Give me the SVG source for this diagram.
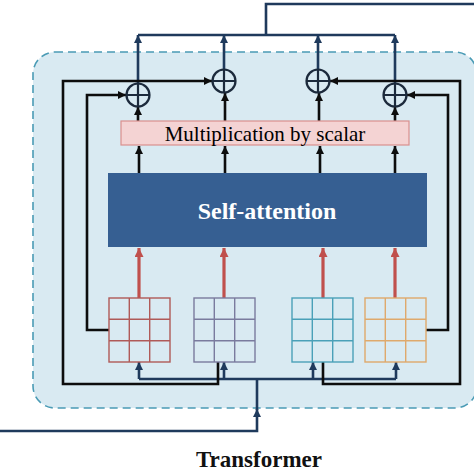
<svg xmlns="http://www.w3.org/2000/svg" width="474" height="474" viewBox="0 0 474 474">
<style>
.blk{fill:none;stroke:#0d0d0d;stroke-width:2.6}
.nav{fill:none;stroke:#1f3a5c;stroke-width:2.6}
.red{fill:none;stroke:#c0504d;stroke-width:3.2}
.sum{fill:none;stroke:#1c2a3c;stroke-width:2.2}
.lbl{font-family:"Liberation Serif","Times New Roman",serif;text-anchor:middle}
</style>
<defs>
<marker id="ab" markerUnits="userSpaceOnUse" markerWidth="10" markerHeight="10" refX="8" refY="4" orient="auto"><path d="M0,0 L8,4 L0,8 Z" fill="#0d0d0d"/></marker>
<marker id="an" markerUnits="userSpaceOnUse" markerWidth="10" markerHeight="10" refX="8" refY="4" orient="auto"><path d="M0,0 L8,4 L0,8 Z" fill="#1f3a5c"/></marker>
<marker id="ar" markerUnits="userSpaceOnUse" markerWidth="12" markerHeight="12" refX="9" refY="4.5" orient="auto"><path d="M0,0 L9,4.5 L0,9 Z" fill="#c0504d"/></marker>
</defs>
<rect width="474" height="474" fill="#ffffff"/>
<g id="transformer-frame">
<rect x="33" y="52" width="444" height="356" rx="22" fill="#d9eaf2" stroke="#4a9bb5" stroke-width="1.6" stroke-dasharray="8,5"/>
</g>
<g id="connectors">
<path class="nav" d="M138,35 H395"/>
<path class="nav" d="M266,35 V4 H474"/>
<path class="nav" marker-end="url(#an)" d="M138,84 V35"/>
<path class="nav" marker-end="url(#an)" d="M224,70 V35"/>
<path class="nav" marker-end="url(#an)" d="M318,70 V35"/>
<path class="nav" marker-end="url(#an)" d="M395,84 V35"/>
<path class="nav" marker-end="url(#an)" d="M0,431 H257 V409"/>
<path class="nav" d="M257,410 V379"/>
<path class="nav" d="M139,379 H396"/>
<path class="nav" marker-end="url(#an)" d="M139,379 V362"/>
<path class="nav" marker-end="url(#an)" d="M224,379 V362"/>
<path class="nav" marker-end="url(#an)" d="M313,379 V362"/>
<path class="nav" marker-end="url(#an)" d="M396,379 V362"/>
<path class="blk" marker-end="url(#ab)" d="M218,362 V384 H63 V81 H212"/>
<path class="blk" marker-end="url(#ab)" d="M109,330 H87 V95 H126"/>
<path class="blk" marker-end="url(#ab)" d="M323,362 V384 H460 V81 H330"/>
<path class="blk" marker-end="url(#ab)" d="M426,330 H448 V95 H407"/>
<path class="blk" marker-end="url(#ab)" d="M138,121 V107"/>
<path class="blk" marker-end="url(#ab)" d="M225,121 V93"/>
<path class="blk" marker-end="url(#ab)" d="M319,121 V93"/>
<path class="blk" marker-end="url(#ab)" d="M395,121 V107"/>
<path class="blk" marker-end="url(#ab)" d="M139,173 V146"/>
<path class="blk" marker-end="url(#ab)" d="M225,173 V146"/>
<path class="blk" marker-end="url(#ab)" d="M320,173 V146"/>
<path class="blk" marker-end="url(#ab)" d="M395,173 V146"/>
<path class="red" marker-end="url(#ar)" d="M139,298 V248"/>
<path class="red" marker-end="url(#ar)" d="M224,298 V248"/>
<path class="red" marker-end="url(#ar)" d="M323,298 V248"/>
<path class="red" marker-end="url(#ar)" d="M395,298 V248"/>
</g>
<g id="sum1"><circle class="sum" cx="138" cy="95" r="11.5"/><path class="sum" d="M126.5,95 H149.5 M138,83.5 V106.5"/></g>
<g id="sum2"><circle class="sum" cx="224" cy="81" r="11.5"/><path class="sum" d="M212.5,81 H235.5 M224,69.5 V92.5"/></g>
<g id="sum3"><circle class="sum" cx="318" cy="81" r="11.5"/><path class="sum" d="M306.5,81 H329.5 M318,69.5 V92.5"/></g>
<g id="sum4"><circle class="sum" cx="395" cy="95" r="11.5"/><path class="sum" d="M383.5,95 H406.5 M395,83.5 V106.5"/></g>
<g id="mult">
<rect x="121" y="121" width="288" height="24" fill="#f4d3d3" stroke="#d9908e" stroke-width="1.2"/>
<text class="lbl" x="265" y="141" font-size="21">Multiplication by scalar</text>
</g>
<g id="self-attention">
<rect x="108" y="173" width="319" height="74" fill="#365f92"/>
<text class="lbl" x="267" y="219" font-size="24" font-weight="bold" fill="#ffffff">Self-attention</text>
</g>
<g id="grid1" fill="none" stroke="#b05a58" stroke-width="1.4">
<rect x="109" y="298" width="61" height="64"/>
<path d="M129.3,298 V362 M149.7,298 V362 M109,319.3 H170 M109,340.7 H170"/>
</g>
<g id="grid2" fill="none" stroke="#7a7b9e" stroke-width="1.4">
<rect x="194" y="298" width="61" height="64"/>
<path d="M214.3,298 V362 M234.7,298 V362 M194,319.3 H255 M194,340.7 H255"/>
</g>
<g id="grid3" fill="none" stroke="#4aa0b8" stroke-width="1.4">
<rect x="292" y="298" width="61" height="64"/>
<path d="M312.3,298 V362 M332.7,298 V362 M292,319.3 H353 M292,340.7 H353"/>
</g>
<g id="grid4" fill="none" stroke="#dfa96c" stroke-width="1.4">
<rect x="365" y="298" width="61" height="64"/>
<path d="M385.3,298 V362 M405.7,298 V362 M365,319.3 H426 M365,340.7 H426"/>
</g>
<text class="lbl" x="259" y="467" font-size="23" font-weight="bold" fill="#111111">Transformer</text>
</svg>
